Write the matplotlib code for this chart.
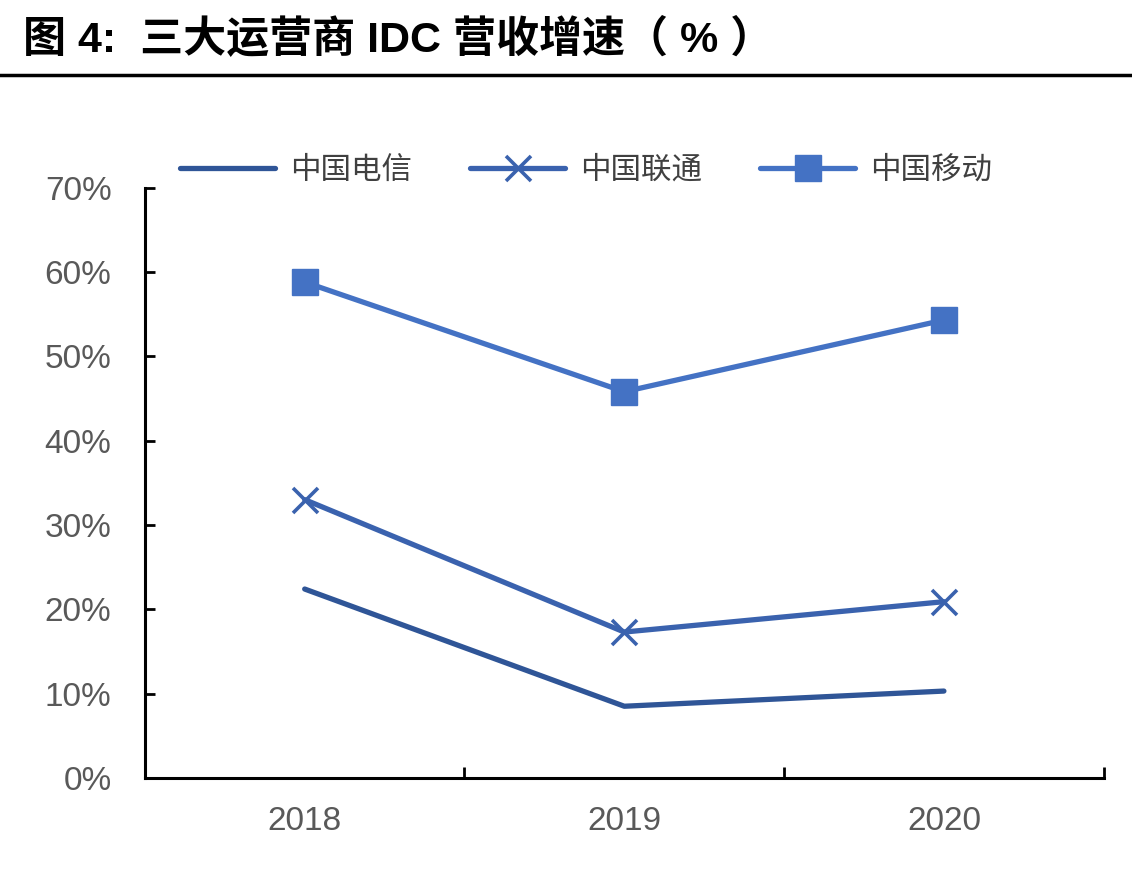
import matplotlib
matplotlib.use("Agg")
import matplotlib.pyplot as plt
from matplotlib.ticker import FuncFormatter

plt.rcParams['font.family'] = ['Liberation Sans', 'Noto Sans CJK SC', 'DejaVu Sans']

years = ['2018', '2019', '2020']
dianxin = [22.4, 8.5, 10.3]   # 中国电信
liantong = [33.0, 17.3, 20.9]  # 中国联通
yidong = [58.8, 45.8, 54.3]    # 中国移动

fig = plt.figure(figsize=(11.32, 8.81), dpi=100)
ax = fig.add_axes([0.128, 0.117, 0.847, 0.670])

x = range(len(years))
ax.plot(x, dianxin, color='#2F5597', lw=3.8, solid_capstyle='round', label='中国电信')
ax.plot(x, liantong, color='#3A62AE', lw=3.8, marker='x', markersize=18, mew=2.6,
        solid_capstyle='round', label='中国联通')
ax.plot(x, yidong, color='#4472C4', lw=3.8, marker='s', markersize=19,
        solid_capstyle='round', label='中国移动')

ax.set_xlim(-0.5, 2.5)
ax.set_ylim(0, 70)
ax.set_yticks(range(0, 71, 10))
ax.yaxis.set_major_formatter(FuncFormatter(lambda v, p: f'{int(v)}%'))
ax.set_xticks(list(x))
ax.set_xticklabels(years)
ax.set_xticks([-0.5, 0.5, 1.5, 2.5], minor=True)
ax.tick_params(axis='x', which='major', length=0, pad=20, labelsize=24, labelcolor='#595959')
ax.tick_params(axis='x', which='minor', direction='in', length=8, width=2, color='black')
ax.tick_params(axis='y', direction='in', length=7, width=2, pad=24, labelsize=24,
               labelcolor='#595959', color='black')

for s in ['top', 'right']:
    ax.spines[s].set_visible(False)
for s in ['left', 'bottom']:
    ax.spines[s].set_linewidth(2.2)
    ax.spines[s].set_color('black')

leg = fig.legend(loc='center', bbox_to_anchor=(0.518, 0.807), ncol=3, frameon=False,
                 handlelength=3.1, handletextpad=0.5, columnspacing=1.9,
                 prop={'family': ['Noto Sans CJK SC'], 'size': 22})
for t in leg.get_texts():
    t.set_color('#404040')

fig.text(0.02, 0.955, '图 4:  三大运营商 IDC 营收增速（ % ）', fontsize=31, fontweight='bold',
         va='center', ha='left', color='black')
fig.add_artist(plt.Line2D([0, 1], [0.915, 0.915], color='black', lw=2.5,
                          transform=fig.transFigure))

fig.savefig('out.png', dpi=100)
